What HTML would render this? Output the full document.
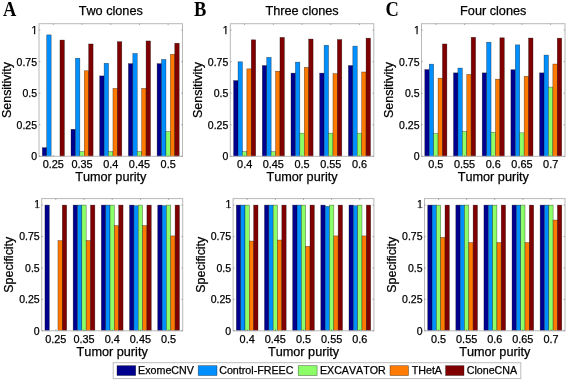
<!DOCTYPE html>
<html><head><meta charset="utf-8"><title>Figure</title>
<style>
html,body{margin:0;padding:0;background:#fff;}
svg{display:block;}
svg text{font-family:"Liberation Sans", sans-serif;fill:#000;stroke:#000;stroke-width:0.25px;font-kerning:none;}
svg text.pl{font-family:"Liberation Serif",serif;font-weight:bold;stroke:none;}
</style></head>
<body>
<svg width="567" height="381" viewBox="0 0 567 381">
<rect width="567" height="381" fill="#fff"/>
<rect x="42.31" y="147.72" width="4.42" height="8.58" fill="#00008f" stroke="#000" stroke-opacity="0.55" stroke-width="0.55"/>
<rect x="46.73" y="34.90" width="4.42" height="121.40" fill="#008fff" stroke="#000" stroke-opacity="0.55" stroke-width="0.55"/>
<rect x="59.97" y="40.07" width="4.42" height="116.23" fill="#800000" stroke="#000" stroke-opacity="0.55" stroke-width="0.55"/>
<rect x="71.01" y="129.29" width="4.42" height="27.01" fill="#00008f" stroke="#000" stroke-opacity="0.55" stroke-width="0.55"/>
<rect x="75.43" y="58.24" width="4.42" height="98.06" fill="#008fff" stroke="#000" stroke-opacity="0.55" stroke-width="0.55"/>
<rect x="79.84" y="151.50" width="4.42" height="4.80" fill="#8cff68" stroke="#000" stroke-opacity="0.55" stroke-width="0.55"/>
<rect x="84.26" y="70.74" width="4.42" height="85.56" fill="#ff7a00" stroke="#000" stroke-opacity="0.55" stroke-width="0.55"/>
<rect x="88.67" y="43.98" width="4.42" height="112.32" fill="#800000" stroke="#000" stroke-opacity="0.55" stroke-width="0.55"/>
<rect x="99.71" y="75.91" width="4.42" height="80.39" fill="#00008f" stroke="#000" stroke-opacity="0.55" stroke-width="0.55"/>
<rect x="104.13" y="63.29" width="4.42" height="93.01" fill="#008fff" stroke="#000" stroke-opacity="0.55" stroke-width="0.55"/>
<rect x="108.54" y="151.50" width="4.42" height="4.80" fill="#8cff68" stroke="#000" stroke-opacity="0.55" stroke-width="0.55"/>
<rect x="112.96" y="88.40" width="4.42" height="67.90" fill="#ff7a00" stroke="#000" stroke-opacity="0.55" stroke-width="0.55"/>
<rect x="117.37" y="41.71" width="4.42" height="114.59" fill="#800000" stroke="#000" stroke-opacity="0.55" stroke-width="0.55"/>
<rect x="128.41" y="63.67" width="4.42" height="92.63" fill="#00008f" stroke="#000" stroke-opacity="0.55" stroke-width="0.55"/>
<rect x="132.83" y="53.45" width="4.42" height="102.85" fill="#008fff" stroke="#000" stroke-opacity="0.55" stroke-width="0.55"/>
<rect x="137.24" y="151.50" width="4.42" height="4.80" fill="#8cff68" stroke="#000" stroke-opacity="0.55" stroke-width="0.55"/>
<rect x="141.66" y="88.40" width="4.42" height="67.90" fill="#ff7a00" stroke="#000" stroke-opacity="0.55" stroke-width="0.55"/>
<rect x="146.07" y="40.95" width="4.42" height="115.35" fill="#800000" stroke="#000" stroke-opacity="0.55" stroke-width="0.55"/>
<rect x="157.11" y="63.67" width="4.42" height="92.63" fill="#00008f" stroke="#000" stroke-opacity="0.55" stroke-width="0.55"/>
<rect x="161.53" y="59.50" width="4.42" height="96.80" fill="#008fff" stroke="#000" stroke-opacity="0.55" stroke-width="0.55"/>
<rect x="165.94" y="131.56" width="4.42" height="24.74" fill="#8cff68" stroke="#000" stroke-opacity="0.55" stroke-width="0.55"/>
<rect x="170.36" y="54.33" width="4.42" height="101.97" fill="#ff7a00" stroke="#000" stroke-opacity="0.55" stroke-width="0.55"/>
<rect x="174.77" y="43.22" width="4.42" height="113.08" fill="#800000" stroke="#000" stroke-opacity="0.55" stroke-width="0.55"/>
<rect x="39.00" y="23.70" width="143.50" height="132.60" fill="none" stroke="#b8b8b8" stroke-width="1"/>
<path d="M53.35 156.30v-1.4M53.35 23.70v1.4" stroke="#666" stroke-width="0.5"/>
<text x="53.35" y="168.00" font-size="10.9" text-anchor="middle">0.25</text>
<path d="M82.05 156.30v-1.4M82.05 23.70v1.4" stroke="#666" stroke-width="0.5"/>
<text x="82.05" y="168.00" font-size="10.9" text-anchor="middle">0.35</text>
<path d="M110.75 156.30v-1.4M110.75 23.70v1.4" stroke="#666" stroke-width="0.5"/>
<text x="110.75" y="168.00" font-size="10.9" text-anchor="middle">0.4</text>
<path d="M139.45 156.30v-1.4M139.45 23.70v1.4" stroke="#666" stroke-width="0.5"/>
<text x="139.45" y="168.00" font-size="10.9" text-anchor="middle">0.45</text>
<path d="M168.15 156.30v-1.4M168.15 23.70v1.4" stroke="#666" stroke-width="0.5"/>
<text x="168.15" y="168.00" font-size="10.9" text-anchor="middle">0.5</text>
<path d="M39.00 156.30h1.4M182.50 156.30h-1.4" stroke="#666" stroke-width="0.5"/>
<text x="37.00" y="160.30" font-size="10.5" text-anchor="end">0</text>
<path d="M39.00 124.75h1.4M182.50 124.75h-1.4" stroke="#666" stroke-width="0.5"/>
<text x="37.00" y="129.05" font-size="10.5" text-anchor="end">0.25</text>
<path d="M39.00 93.20h1.4M182.50 93.20h-1.4" stroke="#666" stroke-width="0.5"/>
<text x="37.00" y="97.20" font-size="10.5" text-anchor="end">0.5</text>
<path d="M39.00 61.65h1.4M182.50 61.65h-1.4" stroke="#666" stroke-width="0.5"/>
<text x="37.00" y="66.15" font-size="10.5" text-anchor="end">0.75</text>
<path d="M39.00 30.10h1.4M182.50 30.10h-1.4" stroke="#666" stroke-width="0.5"/>
<clipPath id="c1"><polygon points="30.46,21.70 38.46,21.70 38.46,32.80 35.21,32.80 35.21,34.70 33.91,34.70 33.91,32.80 30.46,32.80"/></clipPath>
<text x="37.30" y="33.70" font-size="10.5" text-anchor="end" clip-path="url(#c1)">1</text>
<text x="110.75" y="181.00" font-size="12.7" text-anchor="middle">Tumor purity</text>
<text transform="translate(10.50 90.00) rotate(-90)" font-size="12.45" text-anchor="middle">Sensitivity</text>
<text x="110.75" y="15.10" font-size="12.7" text-anchor="middle">Two clones</text>
<rect x="233.61" y="80.58" width="4.42" height="75.72" fill="#00008f" stroke="#000" stroke-opacity="0.55" stroke-width="0.55"/>
<rect x="238.03" y="61.78" width="4.42" height="94.52" fill="#008fff" stroke="#000" stroke-opacity="0.55" stroke-width="0.55"/>
<rect x="242.44" y="151.63" width="4.42" height="4.67" fill="#8cff68" stroke="#000" stroke-opacity="0.55" stroke-width="0.55"/>
<rect x="246.86" y="68.84" width="4.42" height="87.46" fill="#ff7a00" stroke="#000" stroke-opacity="0.55" stroke-width="0.55"/>
<rect x="251.27" y="39.82" width="4.42" height="116.48" fill="#800000" stroke="#000" stroke-opacity="0.55" stroke-width="0.55"/>
<rect x="262.31" y="65.56" width="4.42" height="90.74" fill="#00008f" stroke="#000" stroke-opacity="0.55" stroke-width="0.55"/>
<rect x="266.73" y="57.36" width="4.42" height="98.94" fill="#008fff" stroke="#000" stroke-opacity="0.55" stroke-width="0.55"/>
<rect x="271.14" y="151.63" width="4.42" height="4.67" fill="#8cff68" stroke="#000" stroke-opacity="0.55" stroke-width="0.55"/>
<rect x="275.56" y="71.24" width="4.42" height="85.06" fill="#ff7a00" stroke="#000" stroke-opacity="0.55" stroke-width="0.55"/>
<rect x="279.97" y="37.42" width="4.42" height="118.88" fill="#800000" stroke="#000" stroke-opacity="0.55" stroke-width="0.55"/>
<rect x="291.01" y="73.13" width="4.42" height="83.17" fill="#00008f" stroke="#000" stroke-opacity="0.55" stroke-width="0.55"/>
<rect x="295.43" y="62.15" width="4.42" height="94.15" fill="#008fff" stroke="#000" stroke-opacity="0.55" stroke-width="0.55"/>
<rect x="299.84" y="133.21" width="4.42" height="23.09" fill="#8cff68" stroke="#000" stroke-opacity="0.55" stroke-width="0.55"/>
<rect x="304.26" y="67.33" width="4.42" height="88.97" fill="#ff7a00" stroke="#000" stroke-opacity="0.55" stroke-width="0.55"/>
<rect x="308.67" y="39.06" width="4.42" height="117.24" fill="#800000" stroke="#000" stroke-opacity="0.55" stroke-width="0.55"/>
<rect x="319.71" y="73.13" width="4.42" height="83.17" fill="#00008f" stroke="#000" stroke-opacity="0.55" stroke-width="0.55"/>
<rect x="324.13" y="45.24" width="4.42" height="111.06" fill="#008fff" stroke="#000" stroke-opacity="0.55" stroke-width="0.55"/>
<rect x="328.54" y="133.21" width="4.42" height="23.09" fill="#8cff68" stroke="#000" stroke-opacity="0.55" stroke-width="0.55"/>
<rect x="332.96" y="73.64" width="4.42" height="82.66" fill="#ff7a00" stroke="#000" stroke-opacity="0.55" stroke-width="0.55"/>
<rect x="337.37" y="39.56" width="4.42" height="116.74" fill="#800000" stroke="#000" stroke-opacity="0.55" stroke-width="0.55"/>
<rect x="348.41" y="65.56" width="4.42" height="90.74" fill="#00008f" stroke="#000" stroke-opacity="0.55" stroke-width="0.55"/>
<rect x="352.83" y="46.13" width="4.42" height="110.17" fill="#008fff" stroke="#000" stroke-opacity="0.55" stroke-width="0.55"/>
<rect x="357.24" y="133.21" width="4.42" height="23.09" fill="#8cff68" stroke="#000" stroke-opacity="0.55" stroke-width="0.55"/>
<rect x="361.66" y="72.00" width="4.42" height="84.30" fill="#ff7a00" stroke="#000" stroke-opacity="0.55" stroke-width="0.55"/>
<rect x="366.07" y="38.18" width="4.42" height="118.12" fill="#800000" stroke="#000" stroke-opacity="0.55" stroke-width="0.55"/>
<rect x="230.30" y="23.70" width="143.50" height="132.60" fill="none" stroke="#b8b8b8" stroke-width="1"/>
<path d="M244.65 156.30v-1.4M244.65 23.70v1.4" stroke="#666" stroke-width="0.5"/>
<text x="244.65" y="168.00" font-size="10.9" text-anchor="middle">0.4</text>
<path d="M273.35 156.30v-1.4M273.35 23.70v1.4" stroke="#666" stroke-width="0.5"/>
<text x="273.35" y="168.00" font-size="10.9" text-anchor="middle">0.45</text>
<path d="M302.05 156.30v-1.4M302.05 23.70v1.4" stroke="#666" stroke-width="0.5"/>
<text x="302.05" y="168.00" font-size="10.9" text-anchor="middle">0.5</text>
<path d="M330.75 156.30v-1.4M330.75 23.70v1.4" stroke="#666" stroke-width="0.5"/>
<text x="330.75" y="168.00" font-size="10.9" text-anchor="middle">0.55</text>
<path d="M359.45 156.30v-1.4M359.45 23.70v1.4" stroke="#666" stroke-width="0.5"/>
<text x="359.45" y="168.00" font-size="10.9" text-anchor="middle">0.6</text>
<path d="M230.30 156.30h1.4M373.80 156.30h-1.4" stroke="#666" stroke-width="0.5"/>
<text x="228.30" y="160.30" font-size="10.5" text-anchor="end">0</text>
<path d="M230.30 124.75h1.4M373.80 124.75h-1.4" stroke="#666" stroke-width="0.5"/>
<text x="228.30" y="129.05" font-size="10.5" text-anchor="end">0.25</text>
<path d="M230.30 93.20h1.4M373.80 93.20h-1.4" stroke="#666" stroke-width="0.5"/>
<text x="228.30" y="97.20" font-size="10.5" text-anchor="end">0.5</text>
<path d="M230.30 61.65h1.4M373.80 61.65h-1.4" stroke="#666" stroke-width="0.5"/>
<text x="228.30" y="66.15" font-size="10.5" text-anchor="end">0.75</text>
<path d="M230.30 30.10h1.4M373.80 30.10h-1.4" stroke="#666" stroke-width="0.5"/>
<clipPath id="c2"><polygon points="221.76,21.70 229.76,21.70 229.76,32.80 226.51,32.80 226.51,34.70 225.21,34.70 225.21,32.80 221.76,32.80"/></clipPath>
<text x="228.60" y="33.70" font-size="10.5" text-anchor="end" clip-path="url(#c2)">1</text>
<text x="302.05" y="181.00" font-size="12.7" text-anchor="middle">Tumor purity</text>
<text transform="translate(201.70 90.00) rotate(-90)" font-size="12.45" text-anchor="middle">Sensitivity</text>
<text x="302.05" y="15.10" font-size="12.7" text-anchor="middle">Three clones</text>
<rect x="424.81" y="69.60" width="4.42" height="86.70" fill="#00008f" stroke="#000" stroke-opacity="0.55" stroke-width="0.55"/>
<rect x="429.23" y="64.17" width="4.42" height="92.13" fill="#008fff" stroke="#000" stroke-opacity="0.55" stroke-width="0.55"/>
<rect x="433.64" y="133.58" width="4.42" height="22.72" fill="#8cff68" stroke="#000" stroke-opacity="0.55" stroke-width="0.55"/>
<rect x="438.06" y="78.18" width="4.42" height="78.12" fill="#ff7a00" stroke="#000" stroke-opacity="0.55" stroke-width="0.55"/>
<rect x="442.47" y="43.98" width="4.42" height="112.32" fill="#800000" stroke="#000" stroke-opacity="0.55" stroke-width="0.55"/>
<rect x="453.51" y="72.88" width="4.42" height="83.42" fill="#00008f" stroke="#000" stroke-opacity="0.55" stroke-width="0.55"/>
<rect x="457.93" y="68.09" width="4.42" height="88.21" fill="#008fff" stroke="#000" stroke-opacity="0.55" stroke-width="0.55"/>
<rect x="462.34" y="131.56" width="4.42" height="24.74" fill="#8cff68" stroke="#000" stroke-opacity="0.55" stroke-width="0.55"/>
<rect x="466.76" y="74.40" width="4.42" height="81.90" fill="#ff7a00" stroke="#000" stroke-opacity="0.55" stroke-width="0.55"/>
<rect x="471.17" y="37.29" width="4.42" height="119.01" fill="#800000" stroke="#000" stroke-opacity="0.55" stroke-width="0.55"/>
<rect x="482.21" y="72.88" width="4.42" height="83.42" fill="#00008f" stroke="#000" stroke-opacity="0.55" stroke-width="0.55"/>
<rect x="486.63" y="42.22" width="4.42" height="114.08" fill="#008fff" stroke="#000" stroke-opacity="0.55" stroke-width="0.55"/>
<rect x="491.04" y="132.32" width="4.42" height="23.98" fill="#8cff68" stroke="#000" stroke-opacity="0.55" stroke-width="0.55"/>
<rect x="495.46" y="79.19" width="4.42" height="77.11" fill="#ff7a00" stroke="#000" stroke-opacity="0.55" stroke-width="0.55"/>
<rect x="499.87" y="37.80" width="4.42" height="118.50" fill="#800000" stroke="#000" stroke-opacity="0.55" stroke-width="0.55"/>
<rect x="510.91" y="69.73" width="4.42" height="86.57" fill="#00008f" stroke="#000" stroke-opacity="0.55" stroke-width="0.55"/>
<rect x="515.33" y="44.87" width="4.42" height="111.43" fill="#008fff" stroke="#000" stroke-opacity="0.55" stroke-width="0.55"/>
<rect x="519.74" y="132.83" width="4.42" height="23.47" fill="#8cff68" stroke="#000" stroke-opacity="0.55" stroke-width="0.55"/>
<rect x="524.16" y="76.29" width="4.42" height="80.01" fill="#ff7a00" stroke="#000" stroke-opacity="0.55" stroke-width="0.55"/>
<rect x="528.57" y="38.05" width="4.42" height="118.25" fill="#800000" stroke="#000" stroke-opacity="0.55" stroke-width="0.55"/>
<rect x="539.61" y="72.88" width="4.42" height="83.42" fill="#00008f" stroke="#000" stroke-opacity="0.55" stroke-width="0.55"/>
<rect x="544.03" y="55.09" width="4.42" height="101.21" fill="#008fff" stroke="#000" stroke-opacity="0.55" stroke-width="0.55"/>
<rect x="548.44" y="87.14" width="4.42" height="69.16" fill="#8cff68" stroke="#000" stroke-opacity="0.55" stroke-width="0.55"/>
<rect x="552.86" y="64.05" width="4.42" height="92.25" fill="#ff7a00" stroke="#000" stroke-opacity="0.55" stroke-width="0.55"/>
<rect x="557.27" y="38.18" width="4.42" height="118.12" fill="#800000" stroke="#000" stroke-opacity="0.55" stroke-width="0.55"/>
<rect x="421.50" y="23.70" width="143.50" height="132.60" fill="none" stroke="#b8b8b8" stroke-width="1"/>
<path d="M435.85 156.30v-1.4M435.85 23.70v1.4" stroke="#666" stroke-width="0.5"/>
<text x="435.85" y="168.00" font-size="10.9" text-anchor="middle">0.5</text>
<path d="M464.55 156.30v-1.4M464.55 23.70v1.4" stroke="#666" stroke-width="0.5"/>
<text x="464.55" y="168.00" font-size="10.9" text-anchor="middle">0.55</text>
<path d="M493.25 156.30v-1.4M493.25 23.70v1.4" stroke="#666" stroke-width="0.5"/>
<text x="493.25" y="168.00" font-size="10.9" text-anchor="middle">0.6</text>
<path d="M521.95 156.30v-1.4M521.95 23.70v1.4" stroke="#666" stroke-width="0.5"/>
<text x="521.95" y="168.00" font-size="10.9" text-anchor="middle">0.65</text>
<path d="M550.65 156.30v-1.4M550.65 23.70v1.4" stroke="#666" stroke-width="0.5"/>
<text x="550.65" y="168.00" font-size="10.9" text-anchor="middle">0.7</text>
<path d="M421.50 156.30h1.4M565.00 156.30h-1.4" stroke="#666" stroke-width="0.5"/>
<text x="419.50" y="160.30" font-size="10.5" text-anchor="end">0</text>
<path d="M421.50 124.75h1.4M565.00 124.75h-1.4" stroke="#666" stroke-width="0.5"/>
<text x="419.50" y="129.05" font-size="10.5" text-anchor="end">0.25</text>
<path d="M421.50 93.20h1.4M565.00 93.20h-1.4" stroke="#666" stroke-width="0.5"/>
<text x="419.50" y="97.20" font-size="10.5" text-anchor="end">0.5</text>
<path d="M421.50 61.65h1.4M565.00 61.65h-1.4" stroke="#666" stroke-width="0.5"/>
<text x="419.50" y="66.15" font-size="10.5" text-anchor="end">0.75</text>
<path d="M421.50 30.10h1.4M565.00 30.10h-1.4" stroke="#666" stroke-width="0.5"/>
<clipPath id="c3"><polygon points="412.96,21.70 420.96,21.70 420.96,32.80 417.71,32.80 417.71,34.70 416.41,34.70 416.41,32.80 412.96,32.80"/></clipPath>
<text x="419.80" y="33.70" font-size="10.5" text-anchor="end" clip-path="url(#c3)">1</text>
<text x="493.25" y="181.00" font-size="12.7" text-anchor="middle">Tumor purity</text>
<text transform="translate(392.50 90.00) rotate(-90)" font-size="12.45" text-anchor="middle">Sensitivity</text>
<text x="493.25" y="15.10" font-size="12.7" text-anchor="middle">Four clones</text>
<rect x="44.95" y="205.10" width="4.34" height="125.70" fill="#00008f" stroke="#000" stroke-opacity="0.55" stroke-width="0.55"/>
<rect x="57.97" y="240.55" width="4.34" height="90.25" fill="#ff7a00" stroke="#000" stroke-opacity="0.55" stroke-width="0.55"/>
<rect x="62.31" y="205.10" width="4.34" height="125.70" fill="#800000" stroke="#000" stroke-opacity="0.55" stroke-width="0.55"/>
<rect x="73.15" y="205.10" width="4.34" height="125.70" fill="#00008f" stroke="#000" stroke-opacity="0.55" stroke-width="0.55"/>
<rect x="77.49" y="205.10" width="4.34" height="125.70" fill="#008fff" stroke="#000" stroke-opacity="0.55" stroke-width="0.55"/>
<rect x="81.83" y="205.10" width="4.34" height="125.70" fill="#8cff68" stroke="#000" stroke-opacity="0.55" stroke-width="0.55"/>
<rect x="86.17" y="240.55" width="4.34" height="90.25" fill="#ff7a00" stroke="#000" stroke-opacity="0.55" stroke-width="0.55"/>
<rect x="90.51" y="205.10" width="4.34" height="125.70" fill="#800000" stroke="#000" stroke-opacity="0.55" stroke-width="0.55"/>
<rect x="101.35" y="205.10" width="4.34" height="125.70" fill="#00008f" stroke="#000" stroke-opacity="0.55" stroke-width="0.55"/>
<rect x="105.69" y="205.10" width="4.34" height="125.70" fill="#008fff" stroke="#000" stroke-opacity="0.55" stroke-width="0.55"/>
<rect x="110.03" y="205.10" width="4.34" height="125.70" fill="#8cff68" stroke="#000" stroke-opacity="0.55" stroke-width="0.55"/>
<rect x="114.37" y="225.59" width="4.34" height="105.21" fill="#ff7a00" stroke="#000" stroke-opacity="0.55" stroke-width="0.55"/>
<rect x="118.71" y="205.10" width="4.34" height="125.70" fill="#800000" stroke="#000" stroke-opacity="0.55" stroke-width="0.55"/>
<rect x="129.55" y="205.10" width="4.34" height="125.70" fill="#00008f" stroke="#000" stroke-opacity="0.55" stroke-width="0.55"/>
<rect x="133.89" y="205.73" width="4.34" height="125.07" fill="#008fff" stroke="#000" stroke-opacity="0.55" stroke-width="0.55"/>
<rect x="138.23" y="205.10" width="4.34" height="125.70" fill="#8cff68" stroke="#000" stroke-opacity="0.55" stroke-width="0.55"/>
<rect x="142.57" y="225.59" width="4.34" height="105.21" fill="#ff7a00" stroke="#000" stroke-opacity="0.55" stroke-width="0.55"/>
<rect x="146.91" y="205.10" width="4.34" height="125.70" fill="#800000" stroke="#000" stroke-opacity="0.55" stroke-width="0.55"/>
<rect x="157.75" y="205.10" width="4.34" height="125.70" fill="#00008f" stroke="#000" stroke-opacity="0.55" stroke-width="0.55"/>
<rect x="162.09" y="205.73" width="4.34" height="125.07" fill="#008fff" stroke="#000" stroke-opacity="0.55" stroke-width="0.55"/>
<rect x="166.43" y="205.10" width="4.34" height="125.70" fill="#8cff68" stroke="#000" stroke-opacity="0.55" stroke-width="0.55"/>
<rect x="170.77" y="235.90" width="4.34" height="94.90" fill="#ff7a00" stroke="#000" stroke-opacity="0.55" stroke-width="0.55"/>
<rect x="175.11" y="205.10" width="4.34" height="125.70" fill="#800000" stroke="#000" stroke-opacity="0.55" stroke-width="0.55"/>
<rect x="41.70" y="198.60" width="141.00" height="132.20" fill="none" stroke="#b8b8b8" stroke-width="1"/>
<path d="M55.80 330.80v-1.4M55.80 198.60v1.4" stroke="#666" stroke-width="0.5"/>
<text x="55.80" y="342.50" font-size="10.9" text-anchor="middle">0.25</text>
<path d="M84.00 330.80v-1.4M84.00 198.60v1.4" stroke="#666" stroke-width="0.5"/>
<text x="84.00" y="342.50" font-size="10.9" text-anchor="middle">0.35</text>
<path d="M112.20 330.80v-1.4M112.20 198.60v1.4" stroke="#666" stroke-width="0.5"/>
<text x="112.20" y="342.50" font-size="10.9" text-anchor="middle">0.4</text>
<path d="M140.40 330.80v-1.4M140.40 198.60v1.4" stroke="#666" stroke-width="0.5"/>
<text x="140.40" y="342.50" font-size="10.9" text-anchor="middle">0.45</text>
<path d="M168.60 330.80v-1.4M168.60 198.60v1.4" stroke="#666" stroke-width="0.5"/>
<text x="168.60" y="342.50" font-size="10.9" text-anchor="middle">0.5</text>
<path d="M41.70 330.80h1.4M182.70 330.80h-1.4" stroke="#666" stroke-width="0.5"/>
<text x="39.70" y="335.10" font-size="10.5" text-anchor="end">0</text>
<path d="M41.70 299.38h1.4M182.70 299.38h-1.4" stroke="#666" stroke-width="0.5"/>
<text x="39.70" y="303.38" font-size="10.5" text-anchor="end">0.25</text>
<path d="M41.70 267.95h1.4M182.70 267.95h-1.4" stroke="#666" stroke-width="0.5"/>
<text x="39.70" y="272.35" font-size="10.5" text-anchor="end">0.5</text>
<path d="M41.70 236.53h1.4M182.70 236.53h-1.4" stroke="#666" stroke-width="0.5"/>
<text x="39.70" y="240.33" font-size="10.5" text-anchor="end">0.75</text>
<path d="M41.70 205.10h1.4M182.70 205.10h-1.4" stroke="#666" stroke-width="0.5"/>
<clipPath id="c4"><polygon points="33.16,196.40 41.16,196.40 41.16,207.50 37.91,207.50 37.91,209.40 36.61,209.40 36.61,207.50 33.16,207.50"/></clipPath>
<text x="40.00" y="208.40" font-size="10.5" text-anchor="end" clip-path="url(#c4)">1</text>
<text x="112.20" y="355.50" font-size="12.7" text-anchor="middle">Tumor purity</text>
<text transform="translate(13.20 264.70) rotate(-90)" font-size="12.45" text-anchor="middle">Specificity</text>
<rect x="236.35" y="205.10" width="4.33" height="125.70" fill="#00008f" stroke="#000" stroke-opacity="0.55" stroke-width="0.55"/>
<rect x="240.68" y="205.10" width="4.33" height="125.70" fill="#008fff" stroke="#000" stroke-opacity="0.55" stroke-width="0.55"/>
<rect x="245.01" y="205.10" width="4.33" height="125.70" fill="#8cff68" stroke="#000" stroke-opacity="0.55" stroke-width="0.55"/>
<rect x="249.35" y="241.05" width="4.33" height="89.75" fill="#ff7a00" stroke="#000" stroke-opacity="0.55" stroke-width="0.55"/>
<rect x="253.68" y="205.10" width="4.33" height="125.70" fill="#800000" stroke="#000" stroke-opacity="0.55" stroke-width="0.55"/>
<rect x="264.51" y="205.10" width="4.33" height="125.70" fill="#00008f" stroke="#000" stroke-opacity="0.55" stroke-width="0.55"/>
<rect x="268.84" y="205.10" width="4.33" height="125.70" fill="#008fff" stroke="#000" stroke-opacity="0.55" stroke-width="0.55"/>
<rect x="273.17" y="205.10" width="4.33" height="125.70" fill="#8cff68" stroke="#000" stroke-opacity="0.55" stroke-width="0.55"/>
<rect x="277.51" y="240.04" width="4.33" height="90.76" fill="#ff7a00" stroke="#000" stroke-opacity="0.55" stroke-width="0.55"/>
<rect x="281.84" y="205.10" width="4.33" height="125.70" fill="#800000" stroke="#000" stroke-opacity="0.55" stroke-width="0.55"/>
<rect x="292.67" y="205.10" width="4.33" height="125.70" fill="#00008f" stroke="#000" stroke-opacity="0.55" stroke-width="0.55"/>
<rect x="297.00" y="205.10" width="4.33" height="125.70" fill="#008fff" stroke="#000" stroke-opacity="0.55" stroke-width="0.55"/>
<rect x="301.33" y="205.10" width="4.33" height="125.70" fill="#8cff68" stroke="#000" stroke-opacity="0.55" stroke-width="0.55"/>
<rect x="305.67" y="246.33" width="4.33" height="84.47" fill="#ff7a00" stroke="#000" stroke-opacity="0.55" stroke-width="0.55"/>
<rect x="310.00" y="205.10" width="4.33" height="125.70" fill="#800000" stroke="#000" stroke-opacity="0.55" stroke-width="0.55"/>
<rect x="320.83" y="205.10" width="4.33" height="125.70" fill="#00008f" stroke="#000" stroke-opacity="0.55" stroke-width="0.55"/>
<rect x="325.16" y="206.36" width="4.33" height="124.44" fill="#008fff" stroke="#000" stroke-opacity="0.55" stroke-width="0.55"/>
<rect x="329.49" y="205.10" width="4.33" height="125.70" fill="#8cff68" stroke="#000" stroke-opacity="0.55" stroke-width="0.55"/>
<rect x="333.83" y="235.90" width="4.33" height="94.90" fill="#ff7a00" stroke="#000" stroke-opacity="0.55" stroke-width="0.55"/>
<rect x="338.16" y="205.10" width="4.33" height="125.70" fill="#800000" stroke="#000" stroke-opacity="0.55" stroke-width="0.55"/>
<rect x="348.99" y="205.10" width="4.33" height="125.70" fill="#00008f" stroke="#000" stroke-opacity="0.55" stroke-width="0.55"/>
<rect x="353.32" y="205.73" width="4.33" height="125.07" fill="#008fff" stroke="#000" stroke-opacity="0.55" stroke-width="0.55"/>
<rect x="357.65" y="205.10" width="4.33" height="125.70" fill="#8cff68" stroke="#000" stroke-opacity="0.55" stroke-width="0.55"/>
<rect x="361.99" y="235.90" width="4.33" height="94.90" fill="#ff7a00" stroke="#000" stroke-opacity="0.55" stroke-width="0.55"/>
<rect x="366.32" y="205.10" width="4.33" height="125.70" fill="#800000" stroke="#000" stroke-opacity="0.55" stroke-width="0.55"/>
<rect x="233.10" y="198.60" width="140.80" height="132.20" fill="none" stroke="#b8b8b8" stroke-width="1"/>
<path d="M247.18 330.80v-1.4M247.18 198.60v1.4" stroke="#666" stroke-width="0.5"/>
<text x="247.18" y="342.50" font-size="10.9" text-anchor="middle">0.4</text>
<path d="M275.34 330.80v-1.4M275.34 198.60v1.4" stroke="#666" stroke-width="0.5"/>
<text x="275.34" y="342.50" font-size="10.9" text-anchor="middle">0.45</text>
<path d="M303.50 330.80v-1.4M303.50 198.60v1.4" stroke="#666" stroke-width="0.5"/>
<text x="303.50" y="342.50" font-size="10.9" text-anchor="middle">0.5</text>
<path d="M331.66 330.80v-1.4M331.66 198.60v1.4" stroke="#666" stroke-width="0.5"/>
<text x="331.66" y="342.50" font-size="10.9" text-anchor="middle">0.55</text>
<path d="M359.82 330.80v-1.4M359.82 198.60v1.4" stroke="#666" stroke-width="0.5"/>
<text x="359.82" y="342.50" font-size="10.9" text-anchor="middle">0.6</text>
<path d="M233.10 330.80h1.4M373.90 330.80h-1.4" stroke="#666" stroke-width="0.5"/>
<text x="231.10" y="335.10" font-size="10.5" text-anchor="end">0</text>
<path d="M233.10 299.38h1.4M373.90 299.38h-1.4" stroke="#666" stroke-width="0.5"/>
<text x="231.10" y="303.38" font-size="10.5" text-anchor="end">0.25</text>
<path d="M233.10 267.95h1.4M373.90 267.95h-1.4" stroke="#666" stroke-width="0.5"/>
<text x="231.10" y="272.35" font-size="10.5" text-anchor="end">0.5</text>
<path d="M233.10 236.53h1.4M373.90 236.53h-1.4" stroke="#666" stroke-width="0.5"/>
<text x="231.10" y="240.33" font-size="10.5" text-anchor="end">0.75</text>
<path d="M233.10 205.10h1.4M373.90 205.10h-1.4" stroke="#666" stroke-width="0.5"/>
<clipPath id="c5"><polygon points="224.56,196.40 232.56,196.40 232.56,207.50 229.31,207.50 229.31,209.40 228.01,209.40 228.01,207.50 224.56,207.50"/></clipPath>
<text x="231.40" y="208.40" font-size="10.5" text-anchor="end" clip-path="url(#c5)">1</text>
<text x="303.50" y="355.50" font-size="12.7" text-anchor="middle">Tumor purity</text>
<text transform="translate(204.70 264.70) rotate(-90)" font-size="12.45" text-anchor="middle">Specificity</text>
<rect x="427.74" y="205.10" width="4.32" height="125.70" fill="#00008f" stroke="#000" stroke-opacity="0.55" stroke-width="0.55"/>
<rect x="432.07" y="205.10" width="4.32" height="125.70" fill="#008fff" stroke="#000" stroke-opacity="0.55" stroke-width="0.55"/>
<rect x="436.39" y="205.10" width="4.32" height="125.70" fill="#8cff68" stroke="#000" stroke-opacity="0.55" stroke-width="0.55"/>
<rect x="440.71" y="237.40" width="4.32" height="93.40" fill="#ff7a00" stroke="#000" stroke-opacity="0.55" stroke-width="0.55"/>
<rect x="445.03" y="205.10" width="4.32" height="125.70" fill="#800000" stroke="#000" stroke-opacity="0.55" stroke-width="0.55"/>
<rect x="455.84" y="205.10" width="4.32" height="125.70" fill="#00008f" stroke="#000" stroke-opacity="0.55" stroke-width="0.55"/>
<rect x="460.17" y="205.10" width="4.32" height="125.70" fill="#008fff" stroke="#000" stroke-opacity="0.55" stroke-width="0.55"/>
<rect x="464.49" y="205.10" width="4.32" height="125.70" fill="#8cff68" stroke="#000" stroke-opacity="0.55" stroke-width="0.55"/>
<rect x="468.81" y="242.56" width="4.32" height="88.24" fill="#ff7a00" stroke="#000" stroke-opacity="0.55" stroke-width="0.55"/>
<rect x="473.13" y="205.10" width="4.32" height="125.70" fill="#800000" stroke="#000" stroke-opacity="0.55" stroke-width="0.55"/>
<rect x="483.94" y="205.10" width="4.32" height="125.70" fill="#00008f" stroke="#000" stroke-opacity="0.55" stroke-width="0.55"/>
<rect x="488.27" y="205.10" width="4.32" height="125.70" fill="#008fff" stroke="#000" stroke-opacity="0.55" stroke-width="0.55"/>
<rect x="492.59" y="205.10" width="4.32" height="125.70" fill="#8cff68" stroke="#000" stroke-opacity="0.55" stroke-width="0.55"/>
<rect x="496.91" y="242.56" width="4.32" height="88.24" fill="#ff7a00" stroke="#000" stroke-opacity="0.55" stroke-width="0.55"/>
<rect x="501.23" y="205.10" width="4.32" height="125.70" fill="#800000" stroke="#000" stroke-opacity="0.55" stroke-width="0.55"/>
<rect x="512.04" y="205.10" width="4.32" height="125.70" fill="#00008f" stroke="#000" stroke-opacity="0.55" stroke-width="0.55"/>
<rect x="516.37" y="205.10" width="4.32" height="125.70" fill="#008fff" stroke="#000" stroke-opacity="0.55" stroke-width="0.55"/>
<rect x="520.69" y="205.10" width="4.32" height="125.70" fill="#8cff68" stroke="#000" stroke-opacity="0.55" stroke-width="0.55"/>
<rect x="525.01" y="242.56" width="4.32" height="88.24" fill="#ff7a00" stroke="#000" stroke-opacity="0.55" stroke-width="0.55"/>
<rect x="529.33" y="205.10" width="4.32" height="125.70" fill="#800000" stroke="#000" stroke-opacity="0.55" stroke-width="0.55"/>
<rect x="540.14" y="205.10" width="4.32" height="125.70" fill="#00008f" stroke="#000" stroke-opacity="0.55" stroke-width="0.55"/>
<rect x="544.47" y="205.10" width="4.32" height="125.70" fill="#008fff" stroke="#000" stroke-opacity="0.55" stroke-width="0.55"/>
<rect x="548.79" y="205.10" width="4.32" height="125.70" fill="#8cff68" stroke="#000" stroke-opacity="0.55" stroke-width="0.55"/>
<rect x="553.11" y="220.06" width="4.32" height="110.74" fill="#ff7a00" stroke="#000" stroke-opacity="0.55" stroke-width="0.55"/>
<rect x="557.43" y="205.10" width="4.32" height="125.70" fill="#800000" stroke="#000" stroke-opacity="0.55" stroke-width="0.55"/>
<rect x="424.50" y="198.60" width="140.50" height="132.20" fill="none" stroke="#b8b8b8" stroke-width="1"/>
<path d="M438.55 330.80v-1.4M438.55 198.60v1.4" stroke="#666" stroke-width="0.5"/>
<text x="438.55" y="342.50" font-size="10.9" text-anchor="middle">0.5</text>
<path d="M466.65 330.80v-1.4M466.65 198.60v1.4" stroke="#666" stroke-width="0.5"/>
<text x="466.65" y="342.50" font-size="10.9" text-anchor="middle">0.55</text>
<path d="M494.75 330.80v-1.4M494.75 198.60v1.4" stroke="#666" stroke-width="0.5"/>
<text x="494.75" y="342.50" font-size="10.9" text-anchor="middle">0.6</text>
<path d="M522.85 330.80v-1.4M522.85 198.60v1.4" stroke="#666" stroke-width="0.5"/>
<text x="522.85" y="342.50" font-size="10.9" text-anchor="middle">0.65</text>
<path d="M550.95 330.80v-1.4M550.95 198.60v1.4" stroke="#666" stroke-width="0.5"/>
<text x="550.95" y="342.50" font-size="10.9" text-anchor="middle">0.7</text>
<path d="M424.50 330.80h1.4M565.00 330.80h-1.4" stroke="#666" stroke-width="0.5"/>
<text x="422.50" y="335.10" font-size="10.5" text-anchor="end">0</text>
<path d="M424.50 299.38h1.4M565.00 299.38h-1.4" stroke="#666" stroke-width="0.5"/>
<text x="422.50" y="303.38" font-size="10.5" text-anchor="end">0.25</text>
<path d="M424.50 267.95h1.4M565.00 267.95h-1.4" stroke="#666" stroke-width="0.5"/>
<text x="422.50" y="272.35" font-size="10.5" text-anchor="end">0.5</text>
<path d="M424.50 236.53h1.4M565.00 236.53h-1.4" stroke="#666" stroke-width="0.5"/>
<text x="422.50" y="240.33" font-size="10.5" text-anchor="end">0.75</text>
<path d="M424.50 205.10h1.4M565.00 205.10h-1.4" stroke="#666" stroke-width="0.5"/>
<clipPath id="c6"><polygon points="415.96,196.40 423.96,196.40 423.96,207.50 420.71,207.50 420.71,209.40 419.41,209.40 419.41,207.50 415.96,207.50"/></clipPath>
<text x="422.80" y="208.40" font-size="10.5" text-anchor="end" clip-path="url(#c6)">1</text>
<text x="494.75" y="355.50" font-size="12.7" text-anchor="middle">Tumor purity</text>
<text transform="translate(395.70 264.70) rotate(-90)" font-size="12.45" text-anchor="middle">Specificity</text>
<text transform="translate(2.9 15.8) scale(0.87 1)" class="pl" font-size="21.2">A</text>
<text transform="translate(194.0 15.8) scale(0.87 1)" class="pl" font-size="21.2">B</text>
<text transform="translate(385.4 15.8) scale(0.87 1)" class="pl" font-size="21.2">C</text>
<rect x="113.2" y="362.7" width="407.6" height="15.9" fill="#fff" stroke="#bcbcbc" stroke-width="1"/>
<rect x="117.0" y="365.7" width="18.7" height="9.8" fill="#00008f" stroke="#000" stroke-opacity="0.55" stroke-width="0.6"/>
<text x="138.1" y="374.1" font-size="10.7">ExomeCNV</text>
<rect x="198.2" y="365.7" width="18.8" height="9.8" fill="#008fff" stroke="#000" stroke-opacity="0.55" stroke-width="0.6"/>
<text x="219.2" y="374.1" font-size="10.7">Control-FREEC</text>
<rect x="298.2" y="365.7" width="18.9" height="9.8" fill="#8cff68" stroke="#000" stroke-opacity="0.55" stroke-width="0.6"/>
<text x="319.9" y="374.1" font-size="10.7">EXCAVATOR</text>
<rect x="390.0" y="365.7" width="18.5" height="9.8" fill="#ff7a00" stroke="#000" stroke-opacity="0.55" stroke-width="0.6"/>
<text x="411.7" y="374.1" font-size="10.7">THetA</text>
<rect x="445.6" y="365.7" width="18.4" height="9.8" fill="#800000" stroke="#000" stroke-opacity="0.55" stroke-width="0.6"/>
<text x="466.7" y="374.1" font-size="10.7">CloneCNA</text>
</svg>
</body></html>
